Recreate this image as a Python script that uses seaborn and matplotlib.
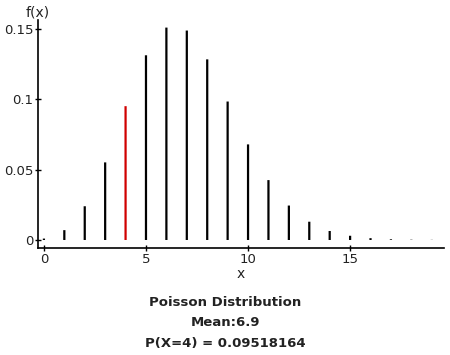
import numpy as np
import matplotlib
matplotlib.use('Agg')
import matplotlib.pyplot as plt
import seaborn as sns

# values
x_vals = list(range(20))
fx_vals = [0.0010, 0.0070, 0.0240, 0.0552, 0.0952, 0.1314, 0.1511, 0.1490,
           0.1285, 0.0985, 0.0680, 0.0426, 0.0245, 0.0130, 0.0064, 0.0030,
           0.0013, 0.0005, 0.0002, 0.0001]
highlight_x = 4
x_ticks = [0, 5, 10, 15]
y_ticks = [0, 0.05, 0.1, 0.15]
y_ticklabels = ['0', '0.05', '0.1', '0.15']
title_lines = ['Poisson Distribution', 'Mean:6.9', 'P(X=4) = 0.09518164']

sns.set_theme(style='white')
plt.rcParams['font.family'] = ['DejaVu Sans']

fig = plt.figure(figsize=(4.5, 3.55), dpi=100)
ax = fig.add_axes([38 / 450, 1 - 248 / 355, (444 - 38) / 450, (248 - 20) / 355])

colors = ['#d00000' if x == highlight_x else 'black' for x in x_vals]
stems = ax.vlines(x_vals, 0, fx_vals, colors=colors, linewidth=1.6, capstyle='butt')
stems.set_snap(False)

ax.set_xlim(-0.29, 19.6)
ax.set_ylim(-0.0057, 0.1565)
ax.set_xticks(x_ticks)
ax.set_yticks(y_ticks)
ax.set_yticklabels(y_ticklabels)
ax.tick_params(direction='inout', length=5, width=1, colors='black',
               labelcolor='#222222', labelsize=9.5, pad=1, bottom=True, left=True)
sns.despine(ax=ax)
for side in ['left', 'bottom']:
    ax.spines[side].set_color('black')
    ax.spines[side].set_linewidth(1.2)

fig.text(38 / 450, 1 - 12 / 355, 'f(x)', ha='center', va='center', fontsize=10, color='#222222')
fig.text(241 / 450, 1 - 274 / 355, 'x', ha='center', va='center', fontsize=10, color='#222222')

for i, line in enumerate(title_lines):
    fig.text(0.5, 1 - (303 + 20 * i) / 355, line, ha='center', va='center',
             fontsize=9.5, fontweight='bold', color='#222222')

fig.savefig('out.png', dpi=100)
